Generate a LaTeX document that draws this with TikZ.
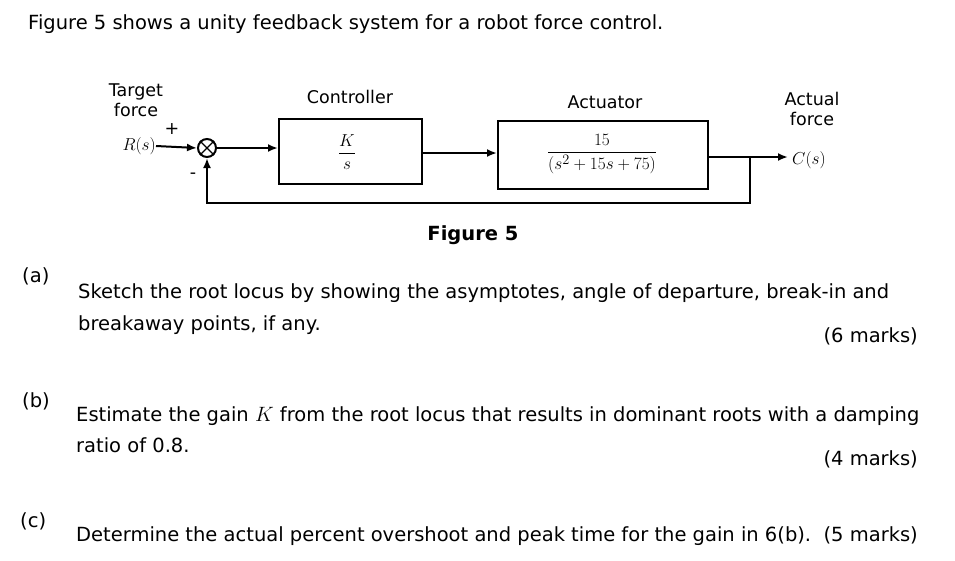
\documentclass[tikz,border=0pt]{standalone}
\usepackage{amsmath}
\usepackage{fontspec}
\setmainfont{DejaVu Sans}
\usetikzlibrary{arrows.meta}
\begin{document}
\begin{tikzpicture}[x=1pt,y=-1pt,
  txt/.style={font=\fontsize{19.5}{23}\selectfont,inner sep=0pt},
  lbl/.style={font=\fontsize{17.5}{20}\selectfont,inner sep=0pt,align=center},
  mth/.style={font=\fontsize{19}{22}\selectfont,inner sep=0pt,align=center},
  blk/.style={draw,line width=2pt},
  sig/.style={line width=2pt,-{Latex[length=10pt,width=8pt]}}]
\useasboundingbox (0,0) rectangle (955,560);
\node[txt,anchor=west] (title) at (28,24) {Figure 5 shows a unity feedback system for a robot force control.};
% diagram
\node[lbl] (tf) at (136,100) {Target\\force};
\node[mth,anchor=east] (R) at (156,146) {$R(s)$};
\node[lbl] (plus) at (172,129) {+};
\node[lbl] (minus) at (193,176) {-};
\node[draw,circle,line width=2pt,minimum size=18pt,inner sep=0pt] (sum) at (207,148) {};
\draw[line width=1.4pt] (sum.north west)--(sum.south east) (sum.north east)--(sum.south west);
\node[blk,minimum width=143pt,minimum height=65pt,anchor=north west] (ctrl) at (278,118) {};
\node[mth] at (347,152) {$\dfrac{K}{s}$};
\node[lbl] (ctl) at (350,97) {Controller};
\node[blk,minimum width=210pt,minimum height=68pt,anchor=north west] (act) at (497,120) {};
\node[mth] at (602,154) {$\dfrac{15}{(s^2+15s+75)}$};
\node[lbl] (actl) at (605,102) {Actuator};
\node[lbl] (af) at (812,109) {Actual\\force};
\node[mth,anchor=west] (C) at (792,160) {$C(s)$};
\coordinate (out) at (788,157);
\coordinate (br) at (750,157);
\draw[sig] (R.east) -- (sum.west);
\draw[sig] (sum.east) -- (ctrl.west|-sum.east);
\draw[sig] (ctrl.east|-0,153) -- (act.west|-0,153);
\draw[sig] (act.east|-out) -- (out);
\draw[sig] (br) -- (750,203) -- (207,203) -- (sum.south);
\node[txt,font=\fontsize{19.5}{23}\selectfont\bfseries] (fig) at (473,235) {Figure 5};
% questions
\node[txt,anchor=west] (a) at (22,276) {(a)};
\node[txt,anchor=west] at (78,293) {Sketch the root locus by showing the asymptotes, angle of departure, break-in and};
\node[txt,anchor=west] at (78,325) {breakaway points, if any.};
\node[txt,anchor=east] at (918,336) {(6 marks)};
\node[txt,anchor=west] (b) at (22,401) {(b)};
\node[txt,anchor=west] at (76,416) {Estimate the gain $K$ from the root locus that results in dominant roots with a damping};
\node[txt,anchor=west] at (76,445) {ratio of 0.8.};
\node[txt,anchor=east] at (918,459) {(4 marks)};
\node[txt,anchor=west] (c) at (20,521) {(c)};
\node[txt,anchor=west] at (76,536) {Determine the actual percent overshoot and peak time for the gain in 6(b).\ \ (5 marks)};
\end{tikzpicture}
\end{document}
